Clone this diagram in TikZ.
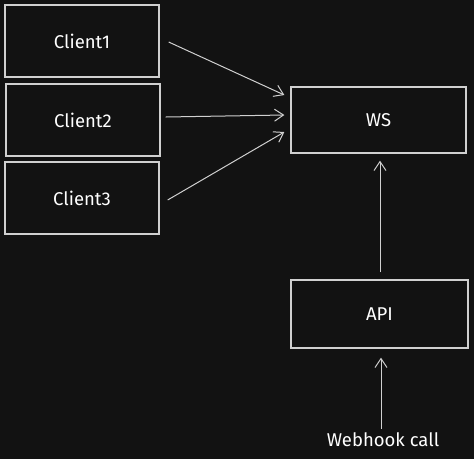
\documentclass[tikz,border=0pt]{standalone}
\usepackage{fontspec}
\setmainfont{Fira Sans}
\usetikzlibrary{arrows.meta}
\definecolor{bg}{HTML}{121212}
\definecolor{fg}{HTML}{D0D0D0}
\begin{document}
\begin{tikzpicture}[x=1pt,y=-1pt,
  box/.style={draw=fg,line width=1.3pt,fill=bg,text=white,inner sep=0pt,font=\fontsize{18.5}{22}\selectfont},
  conn/.style={draw=fg,line width=1pt,-{Straight Barb[length=9pt,width=12pt,line width=1pt]}},
  lbl/.style={text=white,inner sep=0pt,font=\fontsize{18.5}{22}\selectfont}]
\fill[bg] (0,0) rectangle (474,459);
\useasboundingbox (0,0) rectangle (474,459);
\node[box,minimum width=154pt,minimum height=72pt] (c1) at (82,41) {Client1};
\node[box,minimum width=154pt,minimum height=72pt] (c2) at (83,120) {Client2};
\node[box,minimum width=154pt,minimum height=72pt] (c3) at (82,198) {Client3};
\node[box,minimum width=175pt,minimum height=66pt] (ws) at (378.5,120) {WS};
\node[box,minimum width=177pt,minimum height=68pt] (api) at (379.5,314) {API};
\node[lbl] (hook) at (383,440) {Webhook call};
\draw[conn] ([xshift=9pt,yshift=-1pt]c1.east) -- ([xshift=-6pt,yshift=25pt]ws.west);
\draw[conn] ([xshift=5pt,yshift=3pt]c2.east) -- ([xshift=-6pt,yshift=5pt]ws.west);
\draw[conn] ([xshift=8pt,yshift=-2pt]c3.east) -- ([xshift=-6pt,yshift=-12pt]ws.west);
\draw[conn] ([xshift=0.5pt,yshift=7pt]api.north) -- ([xshift=1.5pt,yshift=-7pt]ws.south);
\draw[conn] ([xshift=-2pt,yshift=4pt]hook.north) -- ([xshift=1.5pt,yshift=-9pt]api.south);
\end{tikzpicture}
\end{document}
